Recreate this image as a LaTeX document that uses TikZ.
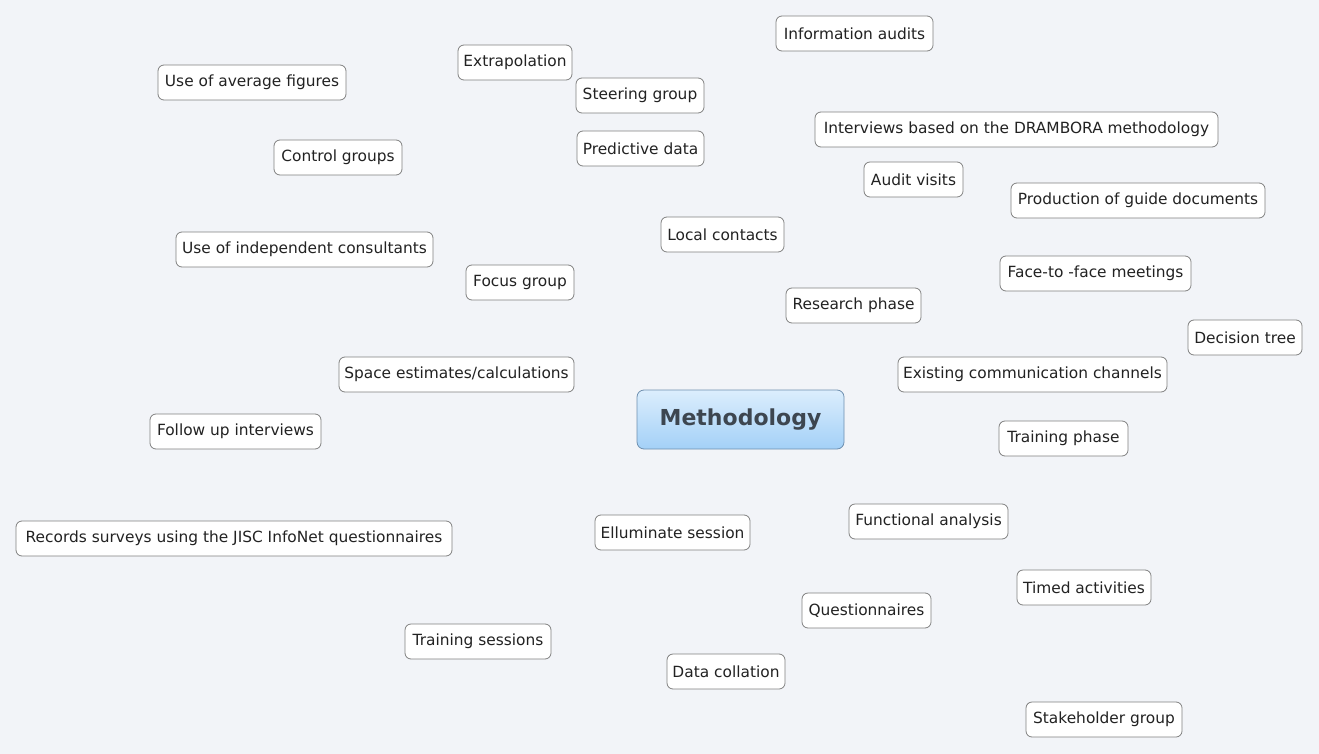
\documentclass[tikz,border=0pt]{standalone}
\usepackage{fontspec}
\setmainfont{DejaVu Sans}
\definecolor{bg}{HTML}{F2F4F8}
\definecolor{nodeborder}{HTML}{808080}
\definecolor{txt}{HTML}{222222}
\definecolor{ctop}{HTML}{DCEEFD}
\definecolor{cbot}{HTML}{A3D0F7}
\definecolor{cborder}{HTML}{6E8FAF}
\definecolor{ctxt}{HTML}{3D4650}
\tikzset{
  topic/.style={draw=nodeborder, fill=white, rounded corners=6pt, line width=0.8pt,
    inner sep=0pt, minimum height=35pt, text=txt, font=\fontsize{15.4}{17}\selectfont},
  central/.style={draw=cborder, top color=ctop, bottom color=cbot, rounded corners=7pt,
    line width=0.8pt, inner sep=0pt, minimum width=207pt, minimum height=59pt,
    text=ctxt, font=\fontsize{22}{25}\selectfont\bfseries},
}
\newcommand{\tp}[6]{% name, left, top, right, bottom, text
  \node[topic, minimum width=#4pt-#2pt] (#1) at ({(#2+#4)/2},{(#3+#5)/2}) {#6};}
\begin{document}
\begin{tikzpicture}[x=1pt,y=-1pt]
\fill[bg] (0,0) rectangle (1319,754);
\useasboundingbox (0,0) rectangle (1319,754);
\node[central] (meth) at (740.5,419.5) {Methodology};
\tp{ia}{776}{16}{933}{51}{Information audits}
\tp{ex}{458}{45}{572}{80}{Extrapolation}
\tp{uaf}{158}{65}{346}{100}{Use of average figures}
\tp{sg}{576}{78}{704}{113}{Steering group}
\tp{ibd}{815}{112}{1218}{147}{Interviews based on the DRAMBORA methodology}
\tp{pd}{577}{131}{704}{166}{Predictive data}
\tp{cg}{274}{140}{402}{175}{Control groups}
\tp{av}{864}{162}{963}{197}{Audit visits}
\tp{pgd}{1011}{183}{1265}{218}{Production of guide documents}
\tp{lc}{661}{217}{784}{252}{Local contacts}
\tp{uic}{176}{232}{433}{267}{Use of independent consultants}
\tp{fg}{466}{265}{574}{300}{Focus group}
\tp{ffm}{1000}{256}{1191}{291}{Face-to -face meetings}
\tp{rp}{786}{288}{921}{323}{Research phase}
\tp{dt}{1188}{320}{1302}{355}{Decision tree}
\tp{sec}{339}{357}{574}{392}{Space estimates/calculations}
\tp{ecc}{898}{357}{1167}{392}{Existing communication channels}
\tp{fui}{150}{414}{321}{449}{Follow up interviews}
\tp{tp}{999}{421}{1128}{456}{Training phase}
\tp{fa}{849}{504}{1008}{539}{Functional analysis}
\tp{es}{595}{515}{750}{550}{Elluminate session}
\tp{rs}{16}{521}{452}{556}{Records surveys using the JISC InfoNet questionnaires}
\tp{ta}{1017}{570}{1151}{605}{Timed activities}
\tp{q}{802}{593}{931}{628}{Questionnaires}
\tp{ts}{405}{624}{551}{659}{Training sessions}
\tp{dc}{667}{654}{785}{689}{Data collation}
\tp{shg}{1026}{702}{1182}{737}{Stakeholder group}
\end{tikzpicture}
\end{document}
